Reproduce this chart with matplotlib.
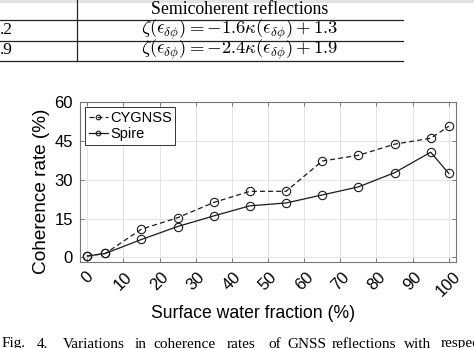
import numpy as np
import matplotlib
matplotlib.use('Agg')
import matplotlib.pyplot as plt
from matplotlib.patches import Rectangle
from matplotlib.lines import Line2D

# data
water_frac = [0, 5, 15, 25, 35, 45, 55, 65, 75, 85, 95, 100]
cygnss = [0.5, 1.5, 10.9, 15.3, 21.2, 25.5, 25.5, 37.2, 39.4, 43.7, 46.0, 50.6]
spire = [0.5, 1.5, 6.9, 11.9, 16.0, 19.9, 21.0, 24.1, 27.2, 32.7, 40.6, 32.4]
xticks = list(range(0, 101, 10))
yticks = [0, 15, 30, 45, 60]

# table text (top of the page crop)
tab_header = 'Semicoherent reflections'
tab_left = ['.2', '.9']
tab_eq = [r'$\zeta(\epsilon_{\delta\phi}) = -1.6\kappa(\epsilon_{\delta\phi}) + 1.3$',
          r'$\zeta(\epsilon_{\delta\phi}) = -2.4\kappa(\epsilon_{\delta\phi}) + 1.9$']
# caption line, justified word by word like the page
cap_words = ['Fig.', '4.', 'Variations', 'in', 'coherence', 'rates', 'of', 'GNSS',
             'reflections', 'with', 'respect']
cap_x = [2, 37, 63, 135, 153, 227, 268, 287, 332, 404, 441]

plt.rcParams['mathtext.fontset'] = 'cm'
plt.rcParams['font.family'] = 'Liberation Sans'

W, H = 474, 348
fig = plt.figure(figsize=(W/100, H/100), dpi=100)

def fx(p):
    return p/W

def fy(p):
    return 1 - p/H

serif = 'Liberation Serif'

# --- table piece ---
fig.add_artist(Rectangle((0, fy(2.5)), 1, 2.5/H, transform=fig.transFigure,
                         color='#e4e4e4', lw=0))
for yy in [20, 40.5, 61]:
    fig.add_artist(Line2D([0, fx(403)], [fy(yy), fy(yy)], transform=fig.transFigure,
                          color='#222222', lw=0.9))
fig.add_artist(Line2D([fx(77), fx(77)], [fy(0), fy(61)], transform=fig.transFigure,
                      color='#222222', lw=0.9))
fig.text(fx(240), fy(10), tab_header, ha='center', va='center', family=serif, size=12.8)
for i in range(2):
    yc = 30 + 20*i
    fig.text(fx(0), fy(yc), tab_left[i], ha='left', va='center', family=serif, size=12.5)
    fig.text(fx(240), fy(yc), tab_eq[i], ha='center', va='center', size=13.4)

# --- chart ---
ax = fig.add_axes([fx(80), fy(262), fx(376), 160/H])
ax.plot(water_frac, cygnss, linestyle='--', dashes=(4, 2.5), marker='o', color='#1a1a1a',
        lw=0.9, ms=6, mfc='none', mew=0.8, label='CYGNSS')
ax.plot(water_frac, spire, linestyle='-', marker='o', color='#1a1a1a',
        lw=0.9, ms=6, mfc='none', mew=0.8, label='Spire')

ax.set_xlim(-2, 102)
ax.set_ylim(-1.8, 60)
ax.set_xticks(xticks)
ax.set_xticklabels([str(t) for t in xticks], rotation=45, ha='center', va='top')
ax.set_yticks(yticks)
ax.grid(True, color='#e3e3e3', lw=0.7)
ax.set_axisbelow(True)
ax.tick_params(direction='in', top=True, right=True, length=3, width=0.6,
               color='#666666', labelsize=12, pad=5)
for s in ax.spines.values():
    s.set_color('#777777')
    s.set_linewidth(0.8)

ax.set_xlabel('Surface water fraction (%)', fontsize=12.7)
ax.xaxis.label.set_va('center')
ax.xaxis.set_label_coords(0.461, -0.319)
ax.set_ylabel('Coherence rate (%)', fontsize=13.7)
ax.yaxis.label.set_va('center')
ax.yaxis.set_label_coords(-0.103, 0.44)

leg = ax.legend(loc='upper left', fontsize=10.5, handlelength=1.3, markerscale=0.55,
                fancybox=False, edgecolor='#333333', framealpha=1, borderpad=0.25,
                labelspacing=0.15, handletextpad=0.15, borderaxespad=0.35)
leg.get_frame().set_linewidth(0.7)

# --- caption (cut off at the bottom) ---
for w, xp in zip(cap_words, cap_x):
    fig.text(fx(xp), fy(337.5), w, ha='left', va='top', family=serif, size=11)

fig.savefig('out.png', dpi=100)
